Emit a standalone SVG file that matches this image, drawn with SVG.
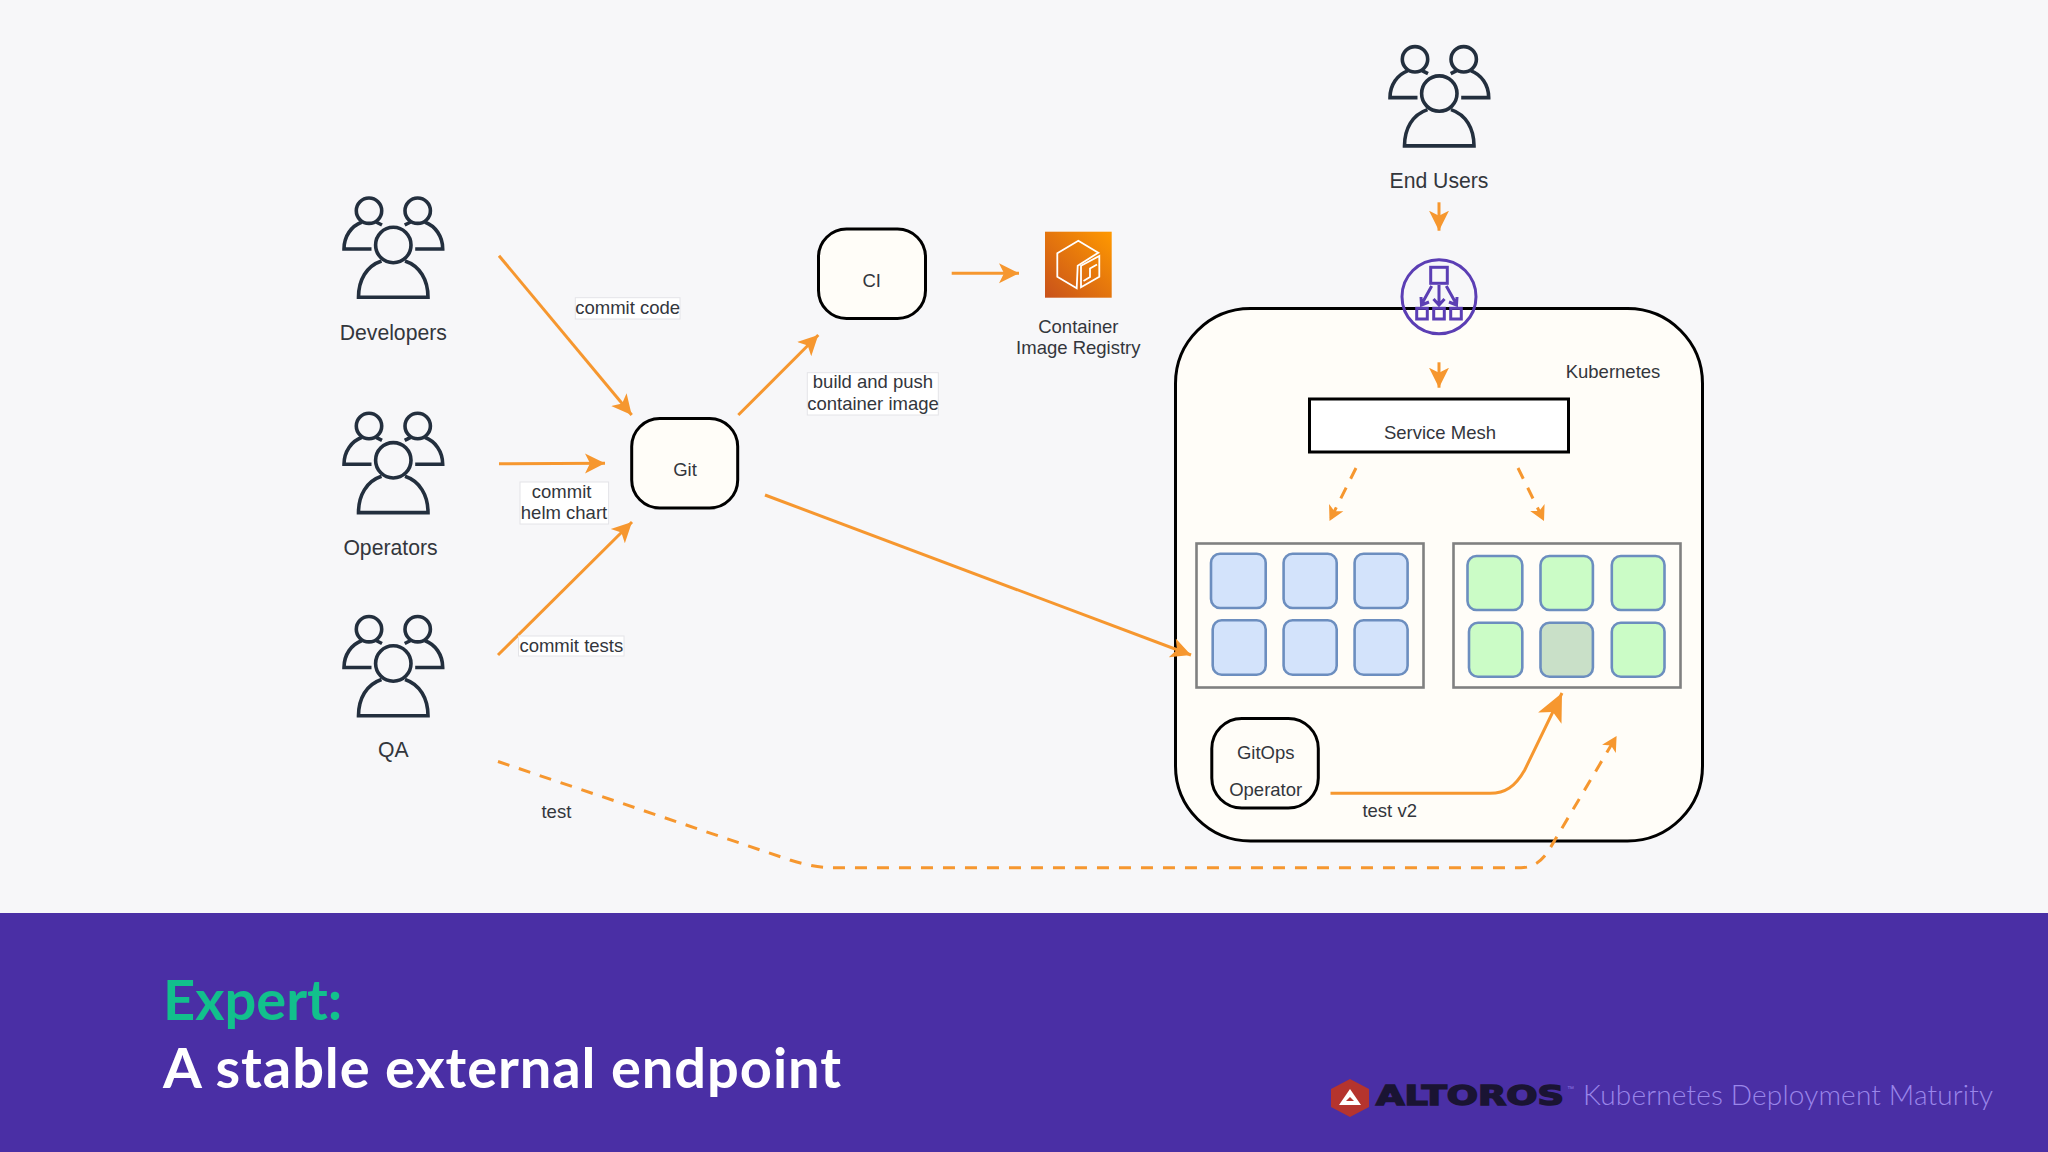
<svg xmlns="http://www.w3.org/2000/svg" xmlns:xlink="http://www.w3.org/1999/xlink" width="2048" height="1152" viewBox="0 0 2048 1152">
<style>
text{font-family:"Liberation Sans",Arial,sans-serif;font-size:18.5px;fill:#33363c;text-anchor:middle}
.big{font-size:21.2px}
.box{fill:#fffdf8;stroke:#000;stroke-width:3}
.lab{fill:#fff;stroke:#e4e4e8;stroke-width:1}
.pg{fill:#fffdf8;stroke:#808080;stroke-width:2.6}
.b{fill:#d3e3fb;stroke:#6c8ebf;stroke-width:2.6}
.g{fill:#cbfcc6;stroke:#6c8ebf;stroke-width:2.6}
.c{fill:none;stroke:#f6972f;stroke-width:3}
.d{stroke-dasharray:12 10}
.u{fill:none;stroke:#232f3e;stroke-width:3.6}
.lb{fill:none;stroke:#5b3eb4;stroke-width:3}
.ic{fill:none;stroke:#fff;stroke-width:1.8}
</style>
<defs>
<linearGradient id="reg" x1="0" y1="1" x2="1" y2="0"><stop offset="0" stop-color="#c8511b"/><stop offset="1" stop-color="#ff9900"/></linearGradient>
<marker id="a" markerUnits="userSpaceOnUse" markerWidth="24" markerHeight="24" refX="20" refY="10" orient="auto" viewBox="0 0 24 20"><path d="M0 0L20 10L0 20L5 10Z" fill="#f6972f"/></marker>
<marker id="s" markerUnits="userSpaceOnUse" markerWidth="18" markerHeight="18" refX="15" refY="8" orient="auto" viewBox="0 0 18 16"><path d="M0 0L15 8L0 16L4 8Z" fill="#f6972f"/></marker>
<marker id="l" markerUnits="userSpaceOnUse" markerWidth="32" markerHeight="30" refX="28" refY="13" orient="auto" viewBox="0 0 32 26"><path d="M0 0L28 13L0 26L7 13Z" fill="#f6972f"/></marker>
<g id="users" class="u">
<circle cx="369" cy="210.7" r="12.7"/><circle cx="417.700" cy="210.7" r="12.7"/><circle cx="393.300" cy="245" r="17.7"/>
<path d="M371.500 249H344C344 236 351.500 226 362 222M376 222L382 225"/>
<path d="M415.200 249H442.700C442.700 236 435.200 226 424.700 222M410.700 222L404.700 225"/>
<path d="M381.500 261C366.500 266 358.500 280 358.500 297.300H428C428 280 420 266 405 261"/>
</g>
</defs>
<rect width="2048" height="1152" fill="#f7f7f9"/>
<rect y="913" width="2048" height="239" fill="#4a2fa5"/>

<g id="developers"><use href="#users"/><text class="big" x="393.300" y="340">Developers</text></g>
<g id="operators"><use href="#users" y="215.300"/><text class="big" x="390.500" y="555">Operators</text></g>
<g id="qa"><use href="#users" y="418.500"/><text class="big" x="393.300" y="757">QA</text></g>
<g id="end-users"><use href="#users" x="1046" y="-151.400"/><text class="big" x="1439" y="188">End Users</text></g>

<g id="kubernetes"><rect class="box" x="1175.500" y="308.500" width="527" height="532.500" rx="75"/><text x="1613" y="377.700">Kubernetes</text></g>
<g id="load-balancer">
<circle class="lb" cx="1439" cy="296.700" r="37"/>
<rect class="lb" x="1430.700" y="267.300" width="16.600" height="16"/>
<rect class="lb" x="1416.700" y="308.300" width="10.600" height="10.700"/><rect class="lb" x="1433.700" y="308.300" width="10.600" height="10.700"/><rect class="lb" x="1450.700" y="308.300" width="10.600" height="10.700"/>
<path class="lb" d="M1439 285V304M1433.500 299L1439 305L1444.500 299M1431.700 286L1421.700 304M1421 297L1421.500 305L1429 302M1446.300 286L1456.300 304M1457 297L1456.500 305L1449 302"/>
</g>
<g id="service-mesh"><rect x="1309.500" y="399" width="259" height="53" fill="#fff" stroke="#000" stroke-width="3"/><text x="1440" y="438.700">Service Mesh</text></g>
<g id="git"><rect class="box" x="631.700" y="418.500" width="106" height="89.500" rx="28"/><text x="685" y="476">Git</text></g>
<g id="ci"><rect class="box" x="818.500" y="229" width="107" height="89.500" rx="28"/><text x="871.700" y="287.300">CI</text></g>
<g id="registry">
<rect x="1045" y="231.700" width="66.700" height="66" fill="url(#reg)"/>
<path class="ic" d="M1078.300 240.700L1098.300 252.700L1077.700 265.700L1076.700 288.300L1057.300 276.700V253.300Z"/>
<path class="ic" d="M1081 265.700L1099.300 256V276.700L1081 287.300ZM1083.500 281L1090 277V268.500L1097 264.500"/>
<text x="1078.300" y="332.700">Container</text><text x="1078.300" y="354">Image Registry</text>
</g>
<g id="pods-v1"><rect class="pg" x="1196.500" y="543.500" width="227" height="144"/>
<rect class="b" x="1211" y="553.700" width="54.700" height="54.300" rx="9"/><rect class="b" x="1283.600" y="553.700" width="53.100" height="54.300" rx="9"/><rect class="b" x="1354.600" y="553.700" width="53" height="54.300" rx="9"/>
<rect class="b" x="1212.700" y="620.300" width="53" height="54.400" rx="9"/><rect class="b" x="1283.600" y="620.300" width="53.100" height="54.400" rx="9"/><rect class="b" x="1354.600" y="620.300" width="53" height="54.400" rx="9"/></g>
<g id="pods-v2"><rect class="pg" x="1453.500" y="543.500" width="227" height="144"/>
<rect class="g" x="1467.500" y="556" width="54.800" height="54" rx="9"/><rect class="g" x="1540.500" y="556" width="52.400" height="54" rx="9"/><rect class="g" x="1611.800" y="556" width="52.700" height="54" rx="9"/>
<rect class="g" x="1469" y="622.700" width="53.300" height="54" rx="9"/><rect class="g" style="fill:#c9e0c8" x="1540.500" y="622.700" width="52.400" height="54" rx="9"/><rect class="g" x="1611.800" y="622.700" width="52.700" height="54" rx="9"/></g>
<g id="gitops"><rect class="box" x="1211.800" y="718.500" width="106.500" height="89.500" rx="30"/><text x="1265.700" y="758.500">GitOps</text><text x="1265.700" y="795.500">Operator</text></g>

<g id="connectors">
<path class="c" marker-end="url(#a)" d="M499 255.700L631.700 415"/>
<path class="c" marker-end="url(#a)" d="M499 463.700L605 463.300"/>
<path class="c" marker-end="url(#a)" d="M498 655L632 522"/>
<path class="c" marker-end="url(#a)" d="M738.300 415L818.300 335"/>
<path class="c" marker-end="url(#a)" d="M951.700 273.300H1019"/>
<path class="c" marker-end="url(#a)" d="M765 495L1191 655"/>
<path class="c" marker-end="url(#a)" d="M1439 202.300V230.700"/>
<path class="c" marker-end="url(#a)" d="M1439 362.300V387.700"/>
<path class="c d" marker-end="url(#s)" d="M1356 468L1329.500 521"/>
<path class="c d" marker-end="url(#s)" d="M1518 468L1544 521"/>
<path class="c" marker-end="url(#l)" d="M1330.500 793.300H1490C1505 793.300 1515 787 1524.700 770L1562 693"/>
<path class="c d" marker-end="url(#s)" d="M498 761.500L790 860Q815 867.700 830 867.700H1521Q1538 867.700 1549 850L1616.600 736"/>
</g>

<g id="labels">
<rect class="lab" x="575.300" y="297.700" width="104.700" height="21.300"/><text x="627.700" y="313.800">commit code</text>
<rect class="lab" x="807.300" y="372.700" width="131" height="42.300"/><text x="873" y="388.400">build and push</text><text x="873" y="409.500">container image</text>
<rect class="lab" x="520" y="482" width="88.600" height="42"/><text x="561.600" y="497.600">commit</text><text x="564" y="518.500">helm chart</text>
<rect class="lab" x="518.500" y="636" width="105.500" height="20"/><text x="571.300" y="652">commit tests</text>
<text x="556.400" y="817.500">test</text>
<text x="1389.700" y="816.700">test v2</text>
</g>

<g id="title">
<text x="163" y="1019.500" style="font-family:Lato,'Open Sans',sans-serif;font-weight:700;font-size:56px;fill:#12c08c;text-anchor:start">Expert:</text>
<text x="163" y="1088" textLength="678" style="font-family:Lato,'Open Sans',sans-serif;font-weight:700;font-size:56px;fill:#fff;text-anchor:start">A stable external endpoint</text>
</g>
<g id="footer">
<path d="M1350 1079L1369 1089V1107L1350 1117L1331 1107V1089Z" fill="#b5342e"/>
<path d="M1350 1089L1361 1105H1339Z" fill="#fff"/><path d="M1350 1097L1354 1101H1346Z" fill="#b5342e"/>
<text x="1376" y="1105" textLength="188" lengthAdjust="spacingAndGlyphs" style="font-family:'DejaVu Sans',sans-serif;font-weight:700;font-size:26px;fill:#1a1433;stroke:#1a1433;stroke-width:1.500;text-anchor:start">ALTOROS</text>
<text x="1567" y="1091" style="font-size:7px;fill:#8d76e0;text-anchor:start">™</text>
<text x="1583" y="1105" textLength="410" style="font-family:Lato,sans-serif;font-weight:300;font-size:28px;fill:#9a86ea;text-anchor:start">Kubernetes Deployment Maturity</text>
</g>
</svg>
